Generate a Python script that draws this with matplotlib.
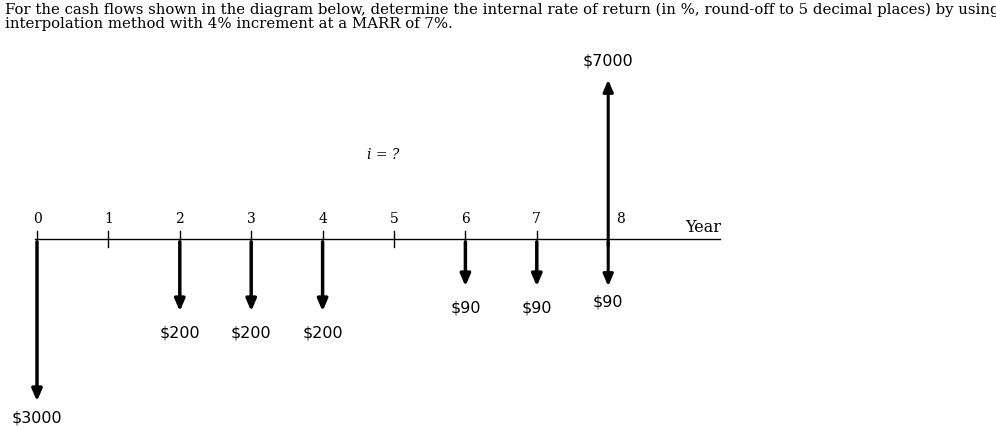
import matplotlib
matplotlib.use("Agg")
import matplotlib.pyplot as plt

years = [0, 1, 2, 3, 4, 5, 6, 7, 8]
flows = [-3000, 0, -200, -200, -200, 0, -90, -90, 7000]
flow_labels = ["$3000", "", "$200", "$200", "$200", "", "$90", "$90", "$7000"]
# drawn arrow lengths (diagram is not to scale)
arrow_len = [165, 0, 75, 75, 75, 0, 50, 50, 162]

title = ("For the cash flows shown in the diagram below, determine the internal rate of return (in %, round-off to 5 decimal places) by using\n"
         "interpolation method with 4% increment at a MARR of 7%.")

W, H = 996, 431
fig = plt.figure(figsize=(W / 100, H / 100), dpi=100)
ax = fig.add_axes([0, 0, 1, 1])
ax.set_xlim(0, W)
ax.set_ylim(H, 0)
ax.axis("off")

x0, dx, y_axis = 37, 71.4, 240
head = "-|>,head_length=0.7,head_width=0.3"

def xpos(year):
    return x0 + dx * year

ax.text(5, 3, title, family="DejaVu Serif", fontsize=10.7, va="top", ha="left", linespacing=1.0)

ax.plot([xpos(0) - 2, 720], [y_axis, y_axis], color="black", lw=1)
ax.text(703, 228, "Year", family="DejaVu Serif", fontsize=11.5, ha="center", va="center")
ax.text(383, 155, "i = ?", family="DejaVu Serif", style="italic", fontsize=10, ha="center", va="center")

for yr, f, lab, L in zip(years, flows, flow_labels, arrow_len):
    x = xpos(yr)
    lx = x + 12 if yr == 8 else x
    ax.text(lx, 219, str(yr), family="DejaVu Serif", fontsize=10, ha="center", va="center")
    if f == 0:
        ax.plot([x, x], [y_axis - 8, y_axis + 8], color="black", lw=1)
        continue
    if f < 0:
        ax.plot([x, x], [y_axis - 8, y_axis], color="black", lw=1)
        ax.annotate("", xy=(x, y_axis + L), xytext=(x, y_axis),
                    arrowprops=dict(arrowstyle=head, color="black", lw=2.5))
        ax.text(x, y_axis + L + (13 if yr == 0 else 18), lab, fontsize=11.5, ha="center", va="center")
    else:
        ax.annotate("", xy=(x, y_axis - L), xytext=(x, y_axis + 10),
                    arrowprops=dict(arrowstyle=head, color="black", lw=2.2))
        ax.text(x, y_axis - L - 17, lab, fontsize=11.5, ha="center", va="center")

# year 8 also has the $90 outflow arrow below the axis
x8 = xpos(8)
ax.annotate("", xy=(x8, y_axis + 50), xytext=(x8, y_axis),
            arrowprops=dict(arrowstyle=head, color="black", lw=2.2))
ax.text(x8, y_axis + 62, "$90", fontsize=11.5, ha="center", va="center")

fig.savefig("out.png", dpi=100)
